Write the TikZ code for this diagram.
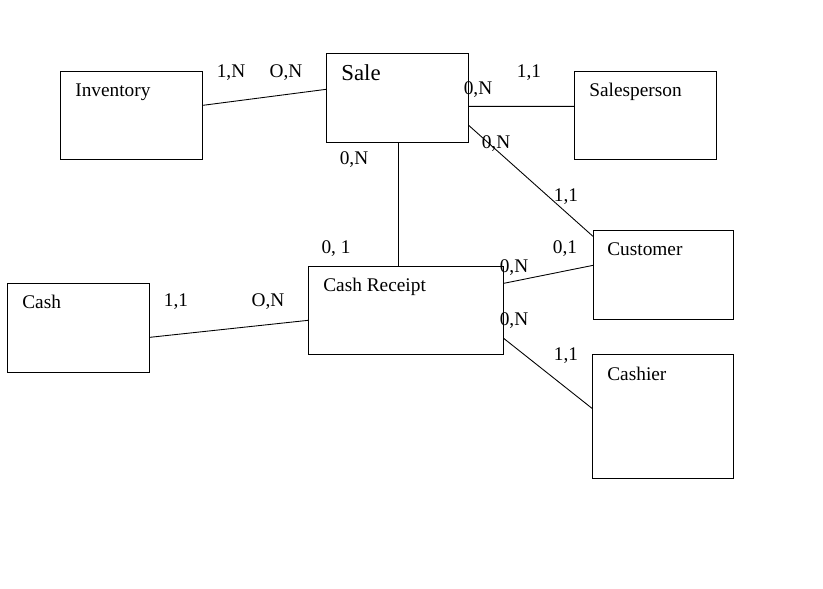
\documentclass[tikz,border=0pt]{standalone}
\usepackage{fontspec}
\setmainfont{Liberation Serif}
\begin{document}
\begin{tikzpicture}[x=0.02cm,y=-0.02cm,
  box/.style={draw, rectangle, inner sep=0pt, anchor=north west},
  ename/.style={anchor=north west, inner sep=0pt, font=\fontsize{11}{13}\selectfont},
  card/.style={inner sep=0pt, font=\fontsize{11}{13}\selectfont},
  link/.style={draw, line width=0.5pt}
]
\useasboundingbox (0,0) rectangle (823,589);
% entities
\node[box, minimum width=2.84cm, minimum height=1.76cm] (inv) at (60,71) {};
\node[box, minimum width=2.84cm, minimum height=1.78cm] (sale) at (326,53) {};
\node[box, minimum width=2.84cm, minimum height=1.76cm] (sp) at (574,71) {};
\node[box, minimum width=2.80cm, minimum height=1.78cm] (cust) at (593,230) {};
\node[box, minimum width=3.90cm, minimum height=1.76cm] (cr) at (308,266) {};
\node[box, minimum width=2.84cm, minimum height=1.78cm] (cash) at (7,283) {};
\node[box, minimum width=2.82cm, minimum height=2.48cm] (cashier) at (592,354) {};
% names
\node[ename] (tinv) at (75,83) {Inventory};
\node[ename, font=\fontsize{13}{15}\selectfont] (tsale) at (341,64) {Sale};
\node[ename] (tsp) at (589,83) {Salesperson};
\node[ename] (tcust) at (607,242) {Customer};
\node[ename] (tcr) at (323,278) {Cash Receipt};
\node[ename] (tcash) at (22,295) {Cash};
\node[ename] (tcashier) at (607,367) {Cashier};
% relationships
\coordinate (saleb) at ([xshift=0.02cm]sale.south);
\draw[link] ([yshift=0.2cm]inv.east) -- ([yshift=0.17cm]sale.west);
\draw[link] ([yshift=-0.17cm]sale.east) -- ([yshift=0.18cm]sp.west);
\draw[link] ([yshift=-0.55cm]sale.east) -- ([yshift=0.77cm]cust.west);
\draw[link] (saleb) -- (saleb |- cr.north);
\draw[link] ([yshift=-0.19cm]cash.east) -- ([yshift=-0.2cm]cr.west);
\draw[link] ([yshift=0.54cm]cr.east) -- ([yshift=0.19cm]cust.west);
\draw[link] ([yshift=-0.56cm]cr.east) -- ([yshift=0.16cm]cashier.west);
% cardinalities
\node[card] (c1) at (231,73) {1,N};
\node[card] (c2) at (286,73) {O,N};
\node[card] (c3) at (478,90) {0,N};
\node[card] (c4) at (529,73) {1,1};
\node[card] (c5) at (496,144) {0,N};
\node[card] (c6) at (566,197) {1,1};
\node[card] (c7) at (354,160) {0,N};
\node[card] (c8) at (336,249) {0, 1};
\node[card] (c9) at (176,302) {1,1};
\node[card] (c10) at (268,302) {O,N};
\node[card] (c11) at (514,268) {0,N};
\node[card] (c12) at (565,249) {0,1};
\node[card] (c13) at (514,321) {0,N};
\node[card] (c14) at (566,356) {1,1};
\end{tikzpicture}
\end{document}
